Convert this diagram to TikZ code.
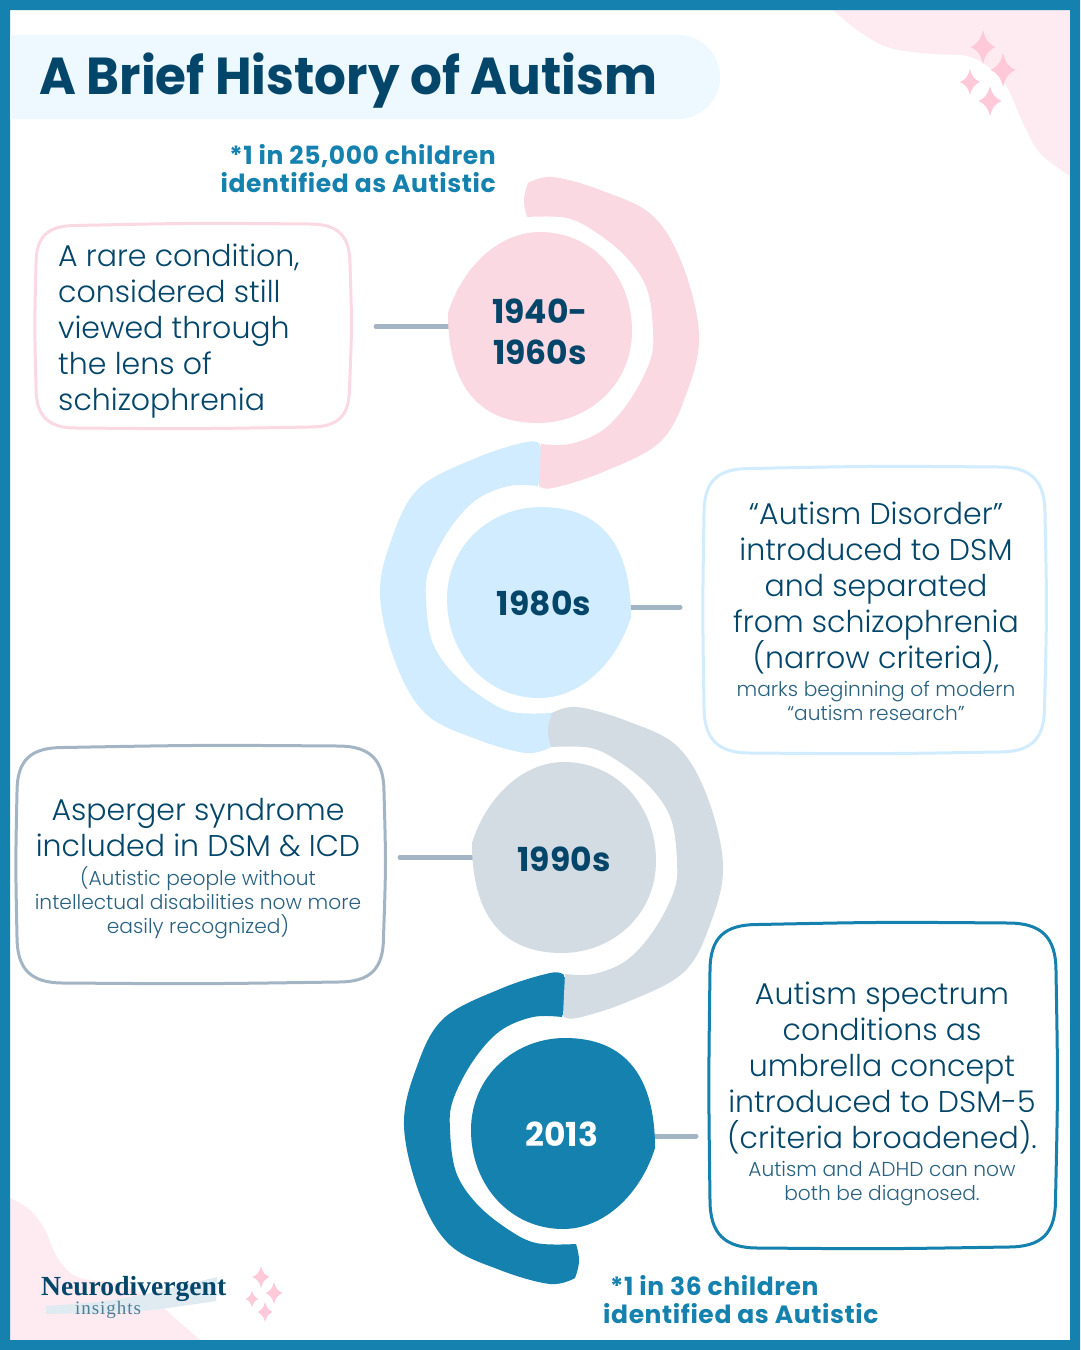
\documentclass[tikz,border=0pt]{standalone}
\usepackage{fontspec}
\setmainfont{Poppins}
\newfontfamily\lightf{Poppins Light}
\newfontfamily\logof{Liberation Serif}
\definecolor{borderc}{HTML}{1581AE}
\definecolor{navy}{HTML}{03466A}
\definecolor{pinkc}{HTML}{FBD9E3}
\definecolor{bluec}{HTML}{D2ECFF}
\definecolor{greyc}{HTML}{D3DBE3}
\definecolor{linec}{HTML}{A3B5C4}
\definecolor{cornerc}{HTML}{FDEBF1}
\definecolor{sparkc}{HTML}{FFC9D9}
\definecolor{barc}{HTML}{EDF8FF}
\definecolor{brushc}{HTML}{DFEAF1}
\newcommand\drawarc[1]{\fill[#1] plot[smooth,tension=.6] coordinates{(528,183)(553,177)(603,191)(653,216)(683,266)(699,335)(687,392)(660,442)(603,472)(553,488)(539,486)} -- (541,444) -- plot[smooth,tension=.6] coordinates{(541,444)(570,444)(603,430)(630,400)(650,361)(653,331)(647,289)(627,258)(597,233)(567,218)(527,217)} -- plot[smooth,tension=.8] coordinates{(527,217)(524,200)(528,183)} -- cycle;}
\newcommand\arcpatch[1]{\fill[#1] (543,446) -- (541,484) -- (528,484) -- (530,446) -- cycle;}
\newcommand\drawblob[1]{\fill[#1] (448,313) .. controls (462,268) and (498,232) .. (540,232) .. controls (592,232) and (632,275) .. (632,331) .. controls (632,385) and (588,423) .. (538,423) .. controls (478,423) and (448,385) .. (448,313) -- cycle;}
\newcommand\sparkle[4]{\begin{scope}[shift={(#1,#2)},xscale=#3,yscale=#4]\fill[sparkc] (0,-1) .. controls (.2,-.42) and (.42,-.2) .. (1,0) .. controls (.42,.2) and (.2,.42) .. (0,1) .. controls (-.2,.42) and (-.42,.2) .. (-1,0) .. controls (-.42,-.2) and (-.2,-.42) .. (0,-1) -- cycle;\end{scope}}
\newcommand\handbox[6]{\draw[#1,line width=3] ({#2+#6},{#3+1.5}) .. controls ({(#2+#4)/2},{#3-1}) .. ({#4-#6},{#3}) .. controls ({#4-.3*#6},{#3}) and ({#4},{#3+.3*#6}) .. ({#4},{#3+#6}) .. controls ({#4+2},{(#3+#5)/2}) .. ({#4-.5},{#5-#6}) .. controls ({#4-.5},{#5-.3*#6}) and ({#4-.3*#6},{#5-1}) .. ({#4-#6},{#5-1}) .. controls ({(#2+#4)/2},{#5+1}) .. ({#2+#6},{#5}) .. controls ({#2+.3*#6},{#5}) and ({#2},{#5-.3*#6}) .. ({#2},{#5-#6}) .. controls ({#2-1.5},{(#3+#5)/2}) .. ({#2},{#3+#6}) .. controls ({#2},{#3+.3*#6}) and ({#2+.3*#6},{#3+1.5}) .. ({#2+#6},{#3+1.5}) -- cycle;}
\tikzset{
 bigtext/.style={text=navy,font=\lightf\fontsize{30}{36}\selectfont,inner sep=0pt,align=center},
 leftbig/.style={bigtext,align=left,anchor=north west},
 smalltext/.style={text=navy!85!white,font=\lightf\fontsize{20.2}{24}\selectfont,inner sep=0pt,align=center,anchor=north},
 yearlabel/.style={text=navy,font=\bfseries\fontsize{33}{41.5}\selectfont,inner sep=0pt,align=center},
 stat/.style={text=borderc,font=\bfseries\fontsize{25}{28}\selectfont\addfontfeature{LetterSpace=2.4},inner sep=0pt},
 spot/.style={circle,inner sep=0pt,minimum size=184pt},
 linkline/.style={linec,line width=5,line cap=round},
}
\begin{document}
\begin{tikzpicture}[x=1pt,y=-1pt]
\useasboundingbox (0,0) rectangle (1080,1350);
\fill[white] (0,0) rectangle (1080,1350);
% corner blobs
\fill[cornerc] plot[smooth,tension=.6] coordinates{(833,10)(860,32)(890,48)(933,54)(967,56)(990,68)(1007,87)(1023,123)(1040,153)(1070,176)} -- (1070,10) -- cycle;
\fill[cornerc] plot[smooth,tension=.6] coordinates{(10,1198)(30,1210)(45,1230)(57,1257)(77,1277)(115,1283)(150,1297)(177,1320)(200,1340)} -- (10,1340) -- cycle;
% border
\fill[borderc,even odd rule] (0,0) rectangle (1080,1350) (10,10) rectangle (1070,1340);
% title bar
\fill[barc] (10,35) -- (678,35) .. controls (701,35) and (720,54) .. (720,77) .. controls (720,100) and (701,119) .. (678,119) -- (10,119) -- cycle;
\node[text=navy,font=\bfseries\fontsize{52}{60}\selectfont,inner sep=0pt,anchor=base west] (title) at (39,94) {\scalebox{.962}[1]{A Brief History of Autism}};
% sparkles
\sparkle{983}{47}{12.5}{17}
\sparkle{1003}{70}{12.5}{17}
\sparkle{970}{82}{10}{13}
\sparkle{990}{101}{11.5}{15}
\sparkle{261}{1277}{8.5}{11}
\sparkle{274}{1293}{8.5}{11}
\sparkle{252}{1299}{6.5}{8.5}
\sparkle{265}{1312}{7.5}{10}
% arcs
\begin{scope}[shift={(1103,1461)},rotate=180]\arcpatch{borderc}\drawarc{borderc}\end{scope}
\begin{scope}[shift={(1079,930)},rotate=180]\arcpatch{bluec}\drawarc{bluec}\end{scope}
\begin{scope}[shift={(24,530)}]\drawarc{greyc}\end{scope}
\drawarc{pinkc}
% spots
\node[spot] (c1) at (540,328) {};
\node[spot] (c2) at (539,602) {};
\node[spot] (c3) at (564,858) {};
\node[spot] (c4) at (563,1133) {};
\coordinate (k1) at (376,326.5);
\coordinate (k2) at (680,607);
\coordinate (k3) at (400,857.5);
\coordinate (k4) at (696,1136);
\draw[linkline] (k1) -- (k1 -| c1.west);
\draw[linkline] (k2) -- (k2 -| c2.east);
\draw[linkline] (k3) -- (k3 -| c3.west);
\draw[linkline] (k4) -- (k4 -| c4.east);
\drawblob{pinkc}
\begin{scope}[shift={(1079,930)},rotate=180]\drawblob{bluec}\end{scope}
\begin{scope}[shift={(24,530)}]\drawblob{greyc}\end{scope}
\begin{scope}[shift={(1103,1461)},rotate=180]\drawblob{borderc}\end{scope}
% year labels
\node[yearlabel] (y1) at (540,332) {1940-\\1960s};
\node[yearlabel] (y2) at (544,603) {1980s};
\node[yearlabel] (y3) at (564,859) {1990s};
\node[yearlabel,text=white] (y4) at (562,1134) {2013};
% boxes
\handbox{pinkc}{36}{224}{350}{428}{40}
\handbox{bluec}{704}{467}{1045}{753}{46}
\handbox{linec}{17}{746}{384}{983}{46}
\handbox{borderc}{710}{923}{1056}{1248}{48}
% box text
\node[leftbig] (t1) at (58,244) {A rare condition,\\considered still\\viewed through\\the lens of\\schizophrenia};
\node[bigtext,anchor=north] (t2) at (876,502) {“Autism Disorder”\\introduced to DSM\\and separated\\from schizophrenia\\(narrow criteria),};
\node[smalltext] (s2) at (876,681) {marks beginning of modern\\“autism research”};
\node[bigtext,anchor=north] (t3) at (198,798) {Asperger syndrome\\included in DSM \& ICD};
\node[smalltext] (s3) at (198,866) {(Autistic people without\\intellectual disabilities now more\\easily recognized)};
\node[bigtext,anchor=north] (t4) at (882,982) {Autism spectrum\\conditions as\\umbrella concept\\introduced to DSM-5\\(criteria broadened).};
\node[smalltext] (s4) at (882,1161) {Autism and ADHD can now\\both be diagnosed.};
% stats
\node[stat,align=right,anchor=north east] (n1) at (496,144) {*1 in 25,000 children\\identified as Autistic};
\node[stat,align=left,anchor=north west] (n2) at (603,1275) {\hspace*{7pt}*1 in 36 children\\identified as Autistic};
% logo
\fill[brushc] plot[smooth,tension=.5] coordinates{(46,1306)(120,1299)(217,1277)} -- (216,1301) -- plot[smooth,tension=.5] coordinates{(216,1301)(140,1311)(46,1314)} -- cycle;
\node[text=navy,font=\logof\bfseries\fontsize{27.6}{30}\selectfont,inner sep=0pt,anchor=base west] (logo1) at (41,1295) {Neurodivergent};
\node[text=navy!70!white,font=\logof\fontsize{19}{22}\selectfont\addfontfeature{LetterSpace=5},inner sep=0pt,anchor=base west] (logo2) at (75,1314) {insights};
\end{tikzpicture}
\end{document}
